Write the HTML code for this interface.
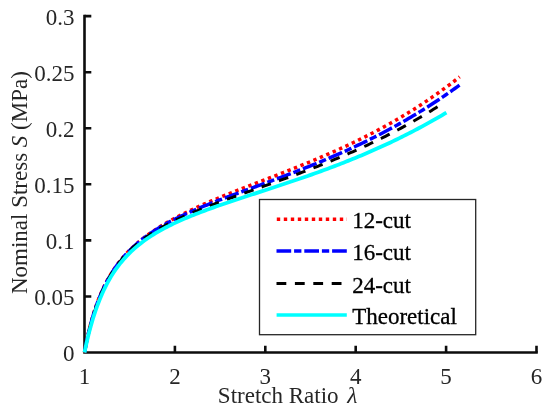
<!DOCTYPE html>
<html><head><meta charset="utf-8"><style>
html,body{margin:0;padding:0;background:#fff;}
body{width:550px;height:414px;overflow:hidden;}
svg{display:block;}
text{font-family:"Liberation Serif", "Times New Roman", serif;font-size:23px;fill:#262626;}
.lg{fill:#000;stroke:#000;stroke-width:0.3px;}
</style></head><body>
<svg width="550" height="414" viewBox="0 0 550 414">
<rect width="550" height="414" fill="#fff"/>
<path d="M84.5,14.800000000000022 V352.5 H537.8" stroke="#0d0d0d" stroke-width="2.6" fill="none" stroke-linejoin="miter"/>
<path d="M84.5,16.11 h6.8 M84.5,72.18 h6.8 M84.5,128.24 h6.8 M84.5,184.31 h6.8 M84.5,240.37 h6.8 M84.5,296.44 h6.8 M174.90,352.5 v-6.8 M265.30,352.5 v-6.8 M355.70,352.5 v-6.8 M446.10,352.5 v-6.8 M536.50,352.5 v-6.8 " stroke="#0d0d0d" stroke-width="2.6" fill="none"/>
<path d="M84.50,352.50 L84.75,351.11 L85.00,349.74 L85.25,348.40 L85.50,347.08 L85.75,345.78 L86.00,344.50 L86.25,343.24 L86.50,342.00 L86.75,340.78 L87.00,339.59 L87.25,338.41 L87.50,337.24 L87.75,336.10 L88.00,334.98 L88.25,333.87 L88.50,332.78 L88.75,331.70 L89.00,330.64 L89.25,329.60 L89.50,328.57 L89.75,327.55 L90.00,326.56 L90.25,325.57 L90.50,324.60 L90.75,323.64 L93.07,315.35 L95.39,308.01 L97.71,301.44 L100.03,295.53 L102.35,290.17 L104.67,285.28 L106.99,280.80 L109.31,276.67 L111.63,272.84 L113.95,269.28 L116.27,265.96 L118.60,262.84 L120.92,259.91 L123.24,257.15 L125.56,254.54 L127.88,252.07 L130.20,249.71 L132.52,247.47 L134.84,245.33 L137.16,243.28 L139.48,241.31 L141.80,239.42 L144.12,237.61 L146.44,235.85 L148.76,234.16 L151.08,232.52 L153.40,230.94 L155.72,229.40 L158.04,227.90 L160.36,226.45 L162.68,225.04 L165.00,223.66 L167.32,222.31 L169.64,221.00 L171.97,219.72 L174.29,218.46 L176.61,217.23 L178.93,216.02 L181.25,214.84 L183.57,213.67 L185.89,212.53 L188.21,211.40 L190.53,210.30 L192.85,209.21 L195.17,208.13 L197.49,207.07 L199.81,206.02 L202.13,204.99 L204.45,203.97 L206.77,202.96 L209.09,201.96 L211.41,200.97 L213.73,199.99 L216.05,199.02 L218.37,198.05 L220.69,197.10 L223.02,196.15 L225.34,195.20 L227.66,194.27 L229.98,193.34 L232.30,192.41 L234.62,191.49 L236.94,190.57 L239.26,189.66 L241.58,188.75 L243.90,187.85 L246.22,186.94 L248.54,186.04 L250.86,185.14 L253.18,184.24 L255.50,183.34 L257.82,182.45 L260.14,181.55 L262.46,180.66 L264.78,179.76 L267.10,178.86 L269.42,177.97 L271.74,177.07 L274.06,176.17 L276.39,175.27 L278.71,174.36 L281.03,173.46 L283.35,172.55 L285.67,171.64 L287.99,170.72 L290.31,169.80 L292.63,168.88 L294.95,167.96 L297.27,167.03 L299.59,166.09 L301.91,165.15 L304.23,164.21 L306.55,163.26 L308.87,162.30 L311.19,161.34 L313.51,160.38 L315.83,159.40 L318.15,158.42 L320.47,157.44 L322.79,156.44 L325.11,155.44 L327.43,154.43 L329.76,153.42 L332.08,152.39 L334.40,151.36 L336.72,150.32 L339.04,149.27 L341.36,148.21 L343.68,147.14 L346.00,146.07 L348.32,144.98 L350.64,143.88 L352.96,142.77 L355.28,141.66 L357.60,140.53 L359.92,139.39 L362.24,138.24 L364.56,137.08 L366.88,135.90 L369.20,134.72 L371.52,133.52 L373.84,132.31 L376.16,131.09 L378.48,129.85 L380.81,128.61 L383.13,127.35 L385.45,126.07 L387.77,124.78 L390.09,123.48 L392.41,122.17 L394.73,120.84 L397.05,119.49 L399.37,118.13 L401.69,116.76 L404.01,115.37 L406.33,113.96 L408.65,112.54 L410.97,111.11 L413.29,109.65 L415.61,108.18 L417.93,106.70 L420.25,105.20 L422.57,103.68 L424.89,102.14 L427.21,100.58 L429.53,99.01 L431.85,97.42 L434.18,95.81 L436.50,94.19 L438.82,92.54 L441.14,90.88 L443.46,89.20 L445.78,87.49 L448.10,85.77 L450.42,84.03 L452.74,82.27 L455.06,80.49 L457.38,78.69 L459.70,76.86" stroke="#ff0000" stroke-width="3.5" fill="none" stroke-dasharray="3.4 3.6" stroke-dashoffset="2.55"/>
<path d="M84.50,352.50 L84.75,351.11 L85.00,349.75 L85.25,348.42 L85.50,347.10 L85.75,345.81 L86.00,344.55 L86.25,343.30 L86.50,342.07 L86.75,340.87 L87.00,339.68 L87.25,338.51 L87.50,337.36 L87.75,336.23 L88.00,335.12 L88.25,334.02 L88.50,332.94 L88.75,331.88 L89.00,330.83 L89.25,329.80 L89.50,328.79 L89.75,327.79 L90.00,326.80 L90.25,325.83 L90.50,324.87 L90.75,323.92 L93.07,315.74 L95.39,308.47 L97.71,301.95 L100.03,296.06 L102.35,290.71 L104.67,285.81 L106.98,281.30 L109.30,277.14 L111.62,273.28 L113.94,269.68 L116.26,266.32 L118.58,263.18 L120.90,260.22 L123.22,257.43 L125.54,254.80 L127.86,252.32 L130.18,249.95 L132.50,247.71 L134.81,245.57 L137.13,243.53 L139.45,241.58 L141.77,239.72 L144.09,237.93 L146.41,236.21 L148.73,234.55 L151.05,232.96 L153.37,231.42 L155.69,229.93 L158.01,228.49 L160.33,227.09 L162.64,225.74 L164.96,224.42 L167.28,223.14 L169.60,221.90 L171.92,220.68 L174.24,219.49 L176.56,218.33 L178.88,217.20 L181.20,216.09 L183.52,215.00 L185.84,213.93 L188.16,212.88 L190.47,211.85 L192.79,210.83 L195.11,209.83 L197.43,208.85 L199.75,207.88 L202.07,206.92 L204.39,205.97 L206.71,205.03 L209.03,204.11 L211.35,203.19 L213.67,202.28 L215.99,201.38 L218.31,200.48 L220.62,199.60 L222.94,198.71 L225.26,197.84 L227.58,196.97 L229.90,196.10 L232.22,195.24 L234.54,194.38 L236.86,193.52 L239.18,192.67 L241.50,191.81 L243.82,190.96 L246.14,190.12 L248.45,189.27 L250.77,188.42 L253.09,187.57 L255.41,186.73 L257.73,185.88 L260.05,185.03 L262.37,184.18 L264.69,183.33 L267.01,182.48 L269.33,181.62 L271.65,180.77 L273.97,179.91 L276.28,179.05 L278.60,178.18 L280.92,177.32 L283.24,176.44 L285.56,175.57 L287.88,174.69 L290.20,173.81 L292.52,172.92 L294.84,172.03 L297.16,171.13 L299.48,170.23 L301.80,169.32 L304.11,168.41 L306.43,167.49 L308.75,166.57 L311.07,165.64 L313.39,164.70 L315.71,163.75 L318.03,162.80 L320.35,161.85 L322.67,160.88 L324.99,159.91 L327.31,158.93 L329.63,157.95 L331.94,156.95 L334.26,155.95 L336.58,154.94 L338.90,153.92 L341.22,152.89 L343.54,151.85 L345.86,150.81 L348.18,149.75 L350.50,148.69 L352.82,147.62 L355.14,146.53 L357.46,145.44 L359.78,144.34 L362.09,143.22 L364.41,142.10 L366.73,140.97 L369.05,139.82 L371.37,138.67 L373.69,137.50 L376.01,136.32 L378.33,135.13 L380.65,133.93 L382.97,132.72 L385.29,131.50 L387.61,130.26 L389.92,129.02 L392.24,127.76 L394.56,126.48 L396.88,125.20 L399.20,123.90 L401.52,122.59 L403.84,121.27 L406.16,119.93 L408.48,118.58 L410.80,117.22 L413.12,115.84 L415.44,114.45 L417.75,113.04 L420.07,111.62 L422.39,110.19 L424.71,108.74 L427.03,107.28 L429.35,105.80 L431.67,104.31 L433.99,102.80 L436.31,101.28 L438.63,99.74 L440.95,98.19 L443.27,96.62 L445.58,95.03 L447.90,93.43 L450.22,91.82 L452.54,90.18 L454.86,88.53 L457.18,86.87 L459.50,85.18" stroke="#0000ff" stroke-width="3.5" fill="none" stroke-dasharray="14.7 2.9 7.3 2.9" stroke-dashoffset="27.38"/>
<path d="M84.50,352.50 L84.75,350.81 L85.00,349.27 L85.25,347.84 L85.50,346.49 L85.75,345.20 L86.00,343.96 L86.25,342.76 L86.50,341.60 L86.75,340.46 L87.00,339.35 L87.25,338.25 L87.50,337.17 L87.75,336.11 L88.00,335.07 L88.25,334.04 L88.50,333.02 L88.75,332.02 L89.00,331.03 L89.25,330.05 L89.50,329.08 L89.75,328.12 L90.00,327.18 L90.25,326.25 L90.50,325.32 L90.75,324.41 L92.93,316.86 L95.12,310.00 L97.30,303.74 L99.48,298.02 L101.66,292.77 L103.85,287.94 L106.03,283.48 L108.21,279.35 L110.39,275.53 L112.58,271.96 L114.76,268.64 L116.94,265.54 L119.13,262.62 L121.31,259.89 L123.49,257.31 L125.67,254.88 L127.86,252.58 L130.04,250.40 L132.22,248.32 L134.40,246.35 L136.59,244.47 L138.77,242.67 L140.95,240.94 L143.13,239.29 L145.32,237.70 L147.50,236.18 L149.68,234.70 L151.87,233.28 L154.05,231.91 L156.23,230.58 L158.41,229.29 L160.60,228.03 L162.78,226.81 L164.96,225.63 L167.14,224.47 L169.33,223.35 L171.51,222.24 L173.69,221.17 L175.88,220.11 L178.06,219.08 L180.24,218.07 L182.42,217.07 L184.61,216.10 L186.79,215.14 L188.97,214.19 L191.15,213.26 L193.34,212.34 L195.52,211.44 L197.70,210.54 L199.89,209.66 L202.07,208.79 L204.25,207.92 L206.43,207.07 L208.62,206.22 L210.80,205.39 L212.98,204.55 L215.16,203.73 L217.35,202.91 L219.53,202.10 L221.71,201.29 L223.89,200.49 L226.08,199.69 L228.26,198.89 L230.44,198.10 L232.63,197.31 L234.81,196.53 L236.99,195.75 L239.17,194.97 L241.36,194.19 L243.54,193.41 L245.72,192.64 L247.90,191.86 L250.09,191.09 L252.27,190.32 L254.45,189.54 L256.64,188.77 L258.82,188.00 L261.00,187.23 L263.18,186.45 L265.37,185.68 L267.55,184.90 L269.73,184.13 L271.91,183.35 L274.10,182.57 L276.28,181.78 L278.46,181.00 L280.65,180.21 L282.83,179.42 L285.01,178.63 L287.19,177.84 L289.38,177.04 L291.56,176.24 L293.74,175.43 L295.92,174.62 L298.11,173.81 L300.29,172.99 L302.47,172.17 L304.66,171.35 L306.84,170.52 L309.02,169.68 L311.20,168.84 L313.39,168.00 L315.57,167.15 L317.75,166.30 L319.93,165.43 L322.12,164.57 L324.30,163.70 L326.48,162.82 L328.66,161.93 L330.85,161.04 L333.03,160.15 L335.21,159.24 L337.40,158.33 L339.58,157.42 L341.76,156.49 L343.94,155.56 L346.13,154.62 L348.31,153.67 L350.49,152.72 L352.67,151.76 L354.86,150.79 L357.04,149.81 L359.22,148.82 L361.41,147.83 L363.59,146.83 L365.77,145.81 L367.95,144.79 L370.14,143.76 L372.32,142.72 L374.50,141.67 L376.68,140.62 L378.87,139.55 L381.05,138.47 L383.23,137.38 L385.42,136.29 L387.60,135.18 L389.78,134.06 L391.96,132.93 L394.15,131.80 L396.33,130.65 L398.51,129.49 L400.69,128.31 L402.88,127.13 L405.06,125.94 L407.24,124.73 L409.42,123.52 L411.61,122.29 L413.79,121.05 L415.97,119.79 L418.16,118.53 L420.34,117.25 L422.52,115.96 L424.70,114.66 L426.89,113.35 L429.07,112.02 L431.25,110.68 L433.43,109.33 L435.62,107.96 L437.80,106.58" stroke="#000000" stroke-width="3" fill="none" stroke-dasharray="9.8 8.6" stroke-dashoffset="15.22"/>
<path d="M84.50,352.50 L84.75,351.29 L85.00,350.09 L85.25,348.91 L85.50,347.74 L85.75,346.58 L86.00,345.45 L86.25,344.32 L86.50,343.21 L86.75,342.11 L87.00,341.03 L87.25,339.95 L87.50,338.90 L87.75,337.85 L88.00,336.82 L88.25,335.80 L88.50,334.79 L88.75,333.79 L89.00,332.80 L89.25,331.83 L89.50,330.87 L89.75,329.92 L90.00,328.98 L90.25,328.05 L90.50,327.13 L90.75,326.22 L92.99,318.54 L95.22,311.58 L97.46,305.24 L99.70,299.47 L101.93,294.18 L104.17,289.32 L106.41,284.83 L108.64,280.69 L110.88,276.85 L113.12,273.28 L115.35,269.95 L117.59,266.84 L119.83,263.92 L122.07,261.18 L124.30,258.60 L126.54,256.16 L128.78,253.86 L131.01,251.67 L133.25,249.60 L135.49,247.62 L137.72,245.74 L139.96,243.94 L142.20,242.22 L144.43,240.57 L146.67,238.98 L148.91,237.46 L151.14,235.99 L153.38,234.58 L155.62,233.21 L157.85,231.89 L160.09,230.61 L162.33,229.36 L164.56,228.16 L166.80,226.99 L169.04,225.85 L171.27,224.74 L173.51,223.66 L175.75,222.60 L177.98,221.57 L180.22,220.56 L182.46,219.57 L184.70,218.60 L186.93,217.65 L189.17,216.72 L191.41,215.81 L193.64,214.91 L195.88,214.02 L198.12,213.15 L200.35,212.29 L202.59,211.44 L204.83,210.60 L207.06,209.78 L209.30,208.96 L211.54,208.15 L213.77,207.35 L216.01,206.56 L218.25,205.77 L220.48,205.00 L222.72,204.23 L224.96,203.46 L227.19,202.70 L229.43,201.94 L231.67,201.19 L233.90,200.44 L236.14,199.70 L238.38,198.96 L240.62,198.22 L242.85,197.48 L245.09,196.75 L247.33,196.02 L249.56,195.29 L251.80,194.56 L254.04,193.83 L256.27,193.10 L258.51,192.37 L260.75,191.65 L262.98,190.92 L265.22,190.19 L267.46,189.46 L269.69,188.73 L271.93,188.00 L274.17,187.26 L276.40,186.53 L278.64,185.79 L280.88,185.05 L283.11,184.31 L285.35,183.56 L287.59,182.81 L289.82,182.06 L292.06,181.31 L294.30,180.55 L296.53,179.79 L298.77,179.03 L301.01,178.26 L303.25,177.48 L305.48,176.71 L307.72,175.93 L309.96,175.14 L312.19,174.35 L314.43,173.55 L316.67,172.75 L318.90,171.94 L321.14,171.13 L323.38,170.31 L325.61,169.49 L327.85,168.66 L330.09,167.82 L332.32,166.98 L334.56,166.13 L336.80,165.27 L339.03,164.41 L341.27,163.54 L343.51,162.67 L345.74,161.78 L347.98,160.89 L350.22,159.99 L352.45,159.09 L354.69,158.18 L356.93,157.25 L359.17,156.33 L361.40,155.39 L363.64,154.44 L365.88,153.49 L368.11,152.53 L370.35,151.56 L372.59,150.58 L374.82,149.59 L377.06,148.59 L379.30,147.59 L381.53,146.57 L383.77,145.55 L386.01,144.52 L388.24,143.47 L390.48,142.42 L392.72,141.36 L394.95,140.28 L397.19,139.20 L399.43,138.11 L401.66,137.01 L403.90,135.89 L406.14,134.77 L408.37,133.63 L410.61,132.49 L412.85,131.33 L415.08,130.17 L417.32,128.99 L419.56,127.80 L421.80,126.60 L424.03,125.39 L426.27,124.17 L428.51,122.94 L430.74,121.69 L432.98,120.43 L435.22,119.16 L437.45,117.88 L439.69,116.59 L441.93,115.28 L444.16,113.97 L446.40,112.64" stroke="#00ffff" stroke-width="3.8" fill="none"/>
<text transform="translate(74.5,24.71) scale(1,1.03)" text-anchor="end">0.3</text>
<text transform="translate(74.5,80.78) scale(1,1.03)" text-anchor="end">0.25</text>
<text transform="translate(74.5,136.84) scale(1,1.03)" text-anchor="end">0.2</text>
<text transform="translate(74.5,192.91) scale(1,1.03)" text-anchor="end">0.15</text>
<text transform="translate(74.5,248.97) scale(1,1.03)" text-anchor="end">0.1</text>
<text transform="translate(74.5,305.04) scale(1,1.03)" text-anchor="end">0.05</text>
<text transform="translate(74.5,361.10) scale(1,1.03)" text-anchor="end">0</text>
<text transform="translate(84.5,383.6) scale(1,1.03)" text-anchor="middle">1</text>
<text transform="translate(174.9,383.6) scale(1,1.03)" text-anchor="middle">2</text>
<text transform="translate(265.3,383.6) scale(1,1.03)" text-anchor="middle">3</text>
<text transform="translate(355.7,383.6) scale(1,1.03)" text-anchor="middle">4</text>
<text transform="translate(446.1,383.6) scale(1,1.03)" text-anchor="middle">5</text>
<text transform="translate(536.5,383.6) scale(1,1.03)" text-anchor="middle">6</text>
<text x="287.6" y="402.5" text-anchor="middle">Stretch Ratio <tspan font-style="italic" font-size="23.5" dx="2.8">λ</tspan></text>
<text transform="translate(27,182.6) rotate(-90)" text-anchor="middle">Nominal Stress <tspan font-style="italic">S</tspan> (MPa)</text>
<rect x="259.5" y="199.5" width="216.2" height="135.2" fill="#fff" stroke="#262626" stroke-width="1.3"/>
<path d="M276.8,219.2 H347" stroke="#ff0000" stroke-width="3.4" stroke-dasharray="3.4 3.6"/>
<path d="M276.5,251 H347" stroke="#0000ff" stroke-width="3.4" stroke-dasharray="14.7 2.9 7.3 2.9"/>
<path d="M276.5,283.5 H347" stroke="#000" stroke-width="3" stroke-dasharray="9.8 8.6"/>
<path d="M276.6,315 H346.8" stroke="#00ffff" stroke-width="3.7"/>
<text class="lg" transform="translate(352.2,228.2) scale(1,1.03)">12-cut</text>
<text class="lg" transform="translate(352.2,260.0) scale(1,1.03)">16-cut</text>
<text class="lg" transform="translate(352.2,292.5) scale(1,1.03)">24-cut</text>
<text class="lg" transform="translate(352.2,324.0) scale(1,1.03)">Theoretical</text>
</svg>
</body></html>
